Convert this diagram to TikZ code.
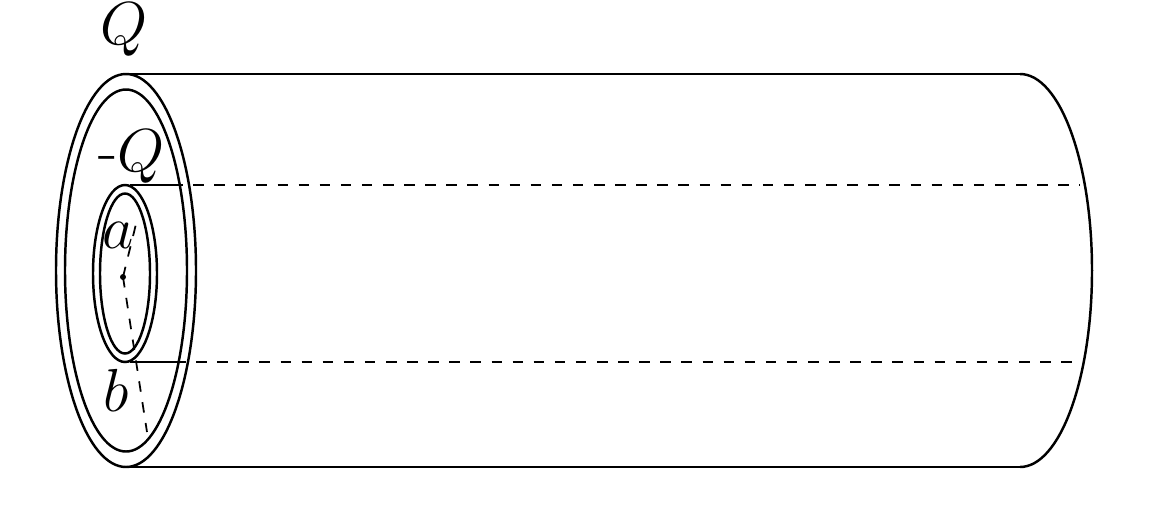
\documentclass[tikz,border=0pt]{standalone}
\begin{document}
\begin{tikzpicture}[x=0.01cm,y=-0.01cm,line width=0.7pt,
  lbl/.style={font=\fontsize{18}{20}\selectfont,inner sep=0pt}]
\useasboundingbox (0,0) rectangle (1152,527);
% body
\draw (126,74) -- (1020,74);
\draw (126,467) -- (1020,467);
\draw (1020,74) arc[start angle=-90,end angle=90,x radius=72,y radius=196.5];
% front rings
\draw (126,270.5) ellipse[x radius=70,y radius=196.5];
\draw (126,270.5) ellipse[x radius=61,y radius=181];
\draw (125,273.5) ellipse[x radius=32,y radius=88.5];
\draw (125,273.5) ellipse[x radius=25,y radius=80];
% axis lines
\coordinate (t1) at (130,185); \coordinate (t2) at (172,185); \coordinate (t3) at (1080,185);
\coordinate (b1) at (130,362); \coordinate (b2) at (175,362); \coordinate (b3) at (1080,362);
\draw (t1) -- (t2); \draw[dashed] (t2) -- (t3);
\draw (b1) -- (b2); \draw[dashed] (b2) -- (b3);
% radii
\coordinate (c) at (123,277);
\fill (c) circle[radius=3];
\coordinate (ra) at (136,224); \coordinate (rb) at (147,432);
\draw[dashed,line width=0.5pt] (c) -- (ra);
\draw[dashed,line width=0.5pt] (c) -- (rb);
% labels
\node[lbl] (Q) at (124,30) {$Q$};
\node[lbl] (mQ) at (132,157) {-$Q$};
\node[lbl] (la) at (118,235) {$a$};
\node[lbl] (lb) at (116,390) {$b$};
\end{tikzpicture}
\end{document}
